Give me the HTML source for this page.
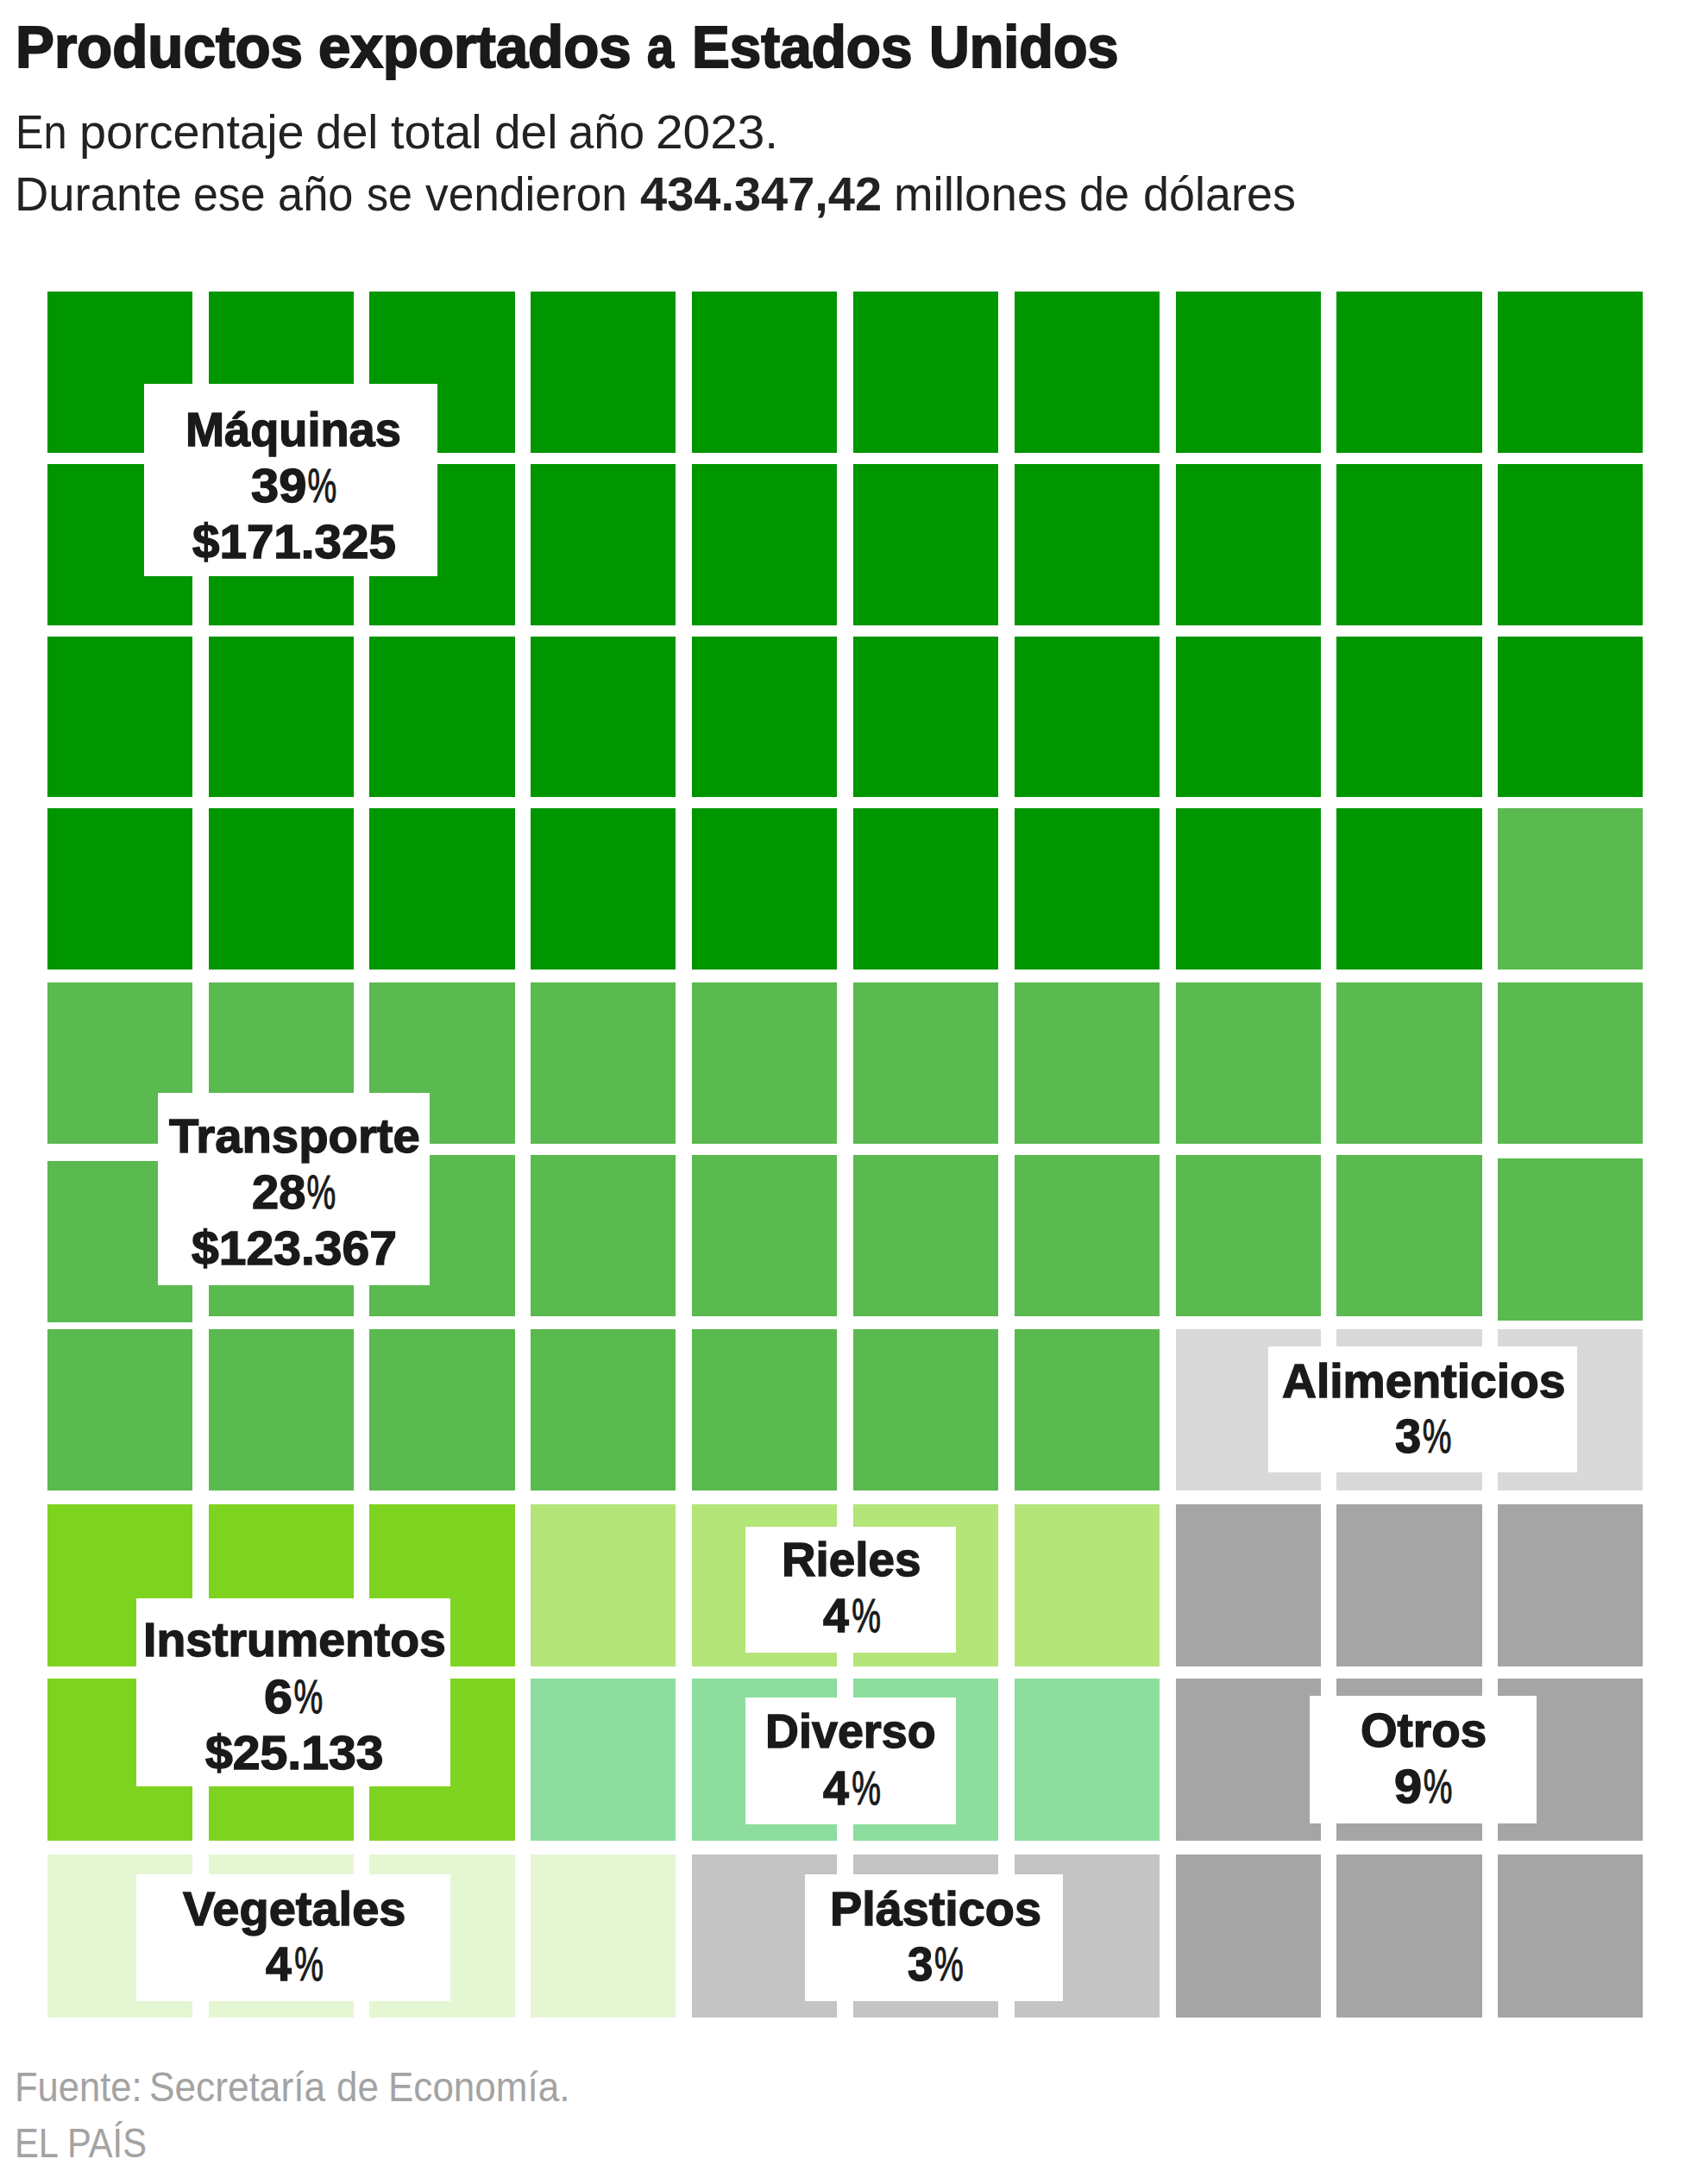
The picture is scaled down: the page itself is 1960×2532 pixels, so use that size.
<!DOCTYPE html>
<html lang="es"><head><meta charset="utf-8"><title>Productos exportados a Estados Unidos</title>
<style>
html,body{margin:0;padding:0;background:#fff}
body{width:1960px;height:2532px;position:relative;overflow:hidden;font-family:"Liberation Sans", sans-serif}
.c{position:absolute}
.b{position:absolute;background:#fff}
.t{position:absolute;white-space:pre;line-height:1;transform-origin:0 0}
.p{display:inline-block;font-weight:400;transform-origin:0 0;-webkit-text-stroke:1.1px #1a1a1a}
.s{position:absolute;top:0;transform-origin:0 0;white-space:pre}
.t1{font-weight:700;color:#1a1a1a;-webkit-text-stroke:2.0px #1a1a1a} .t2{color:#222} .t3{color:#a3a3a3} .l{color:#1a1a1a;-webkit-text-stroke:1.4px #1a1a1a}
.maq{background:#009600}
.tra{background:#5ab94f}
.ali{background:#d9d9d9}
.ins{background:#7ed321}
.rie{background:#b3e579}
.div{background:#8cdd9e}
.veg{background:#e5f6d3}
.pla{background:#c4c4c4}
.otr{background:#a5a5a5}
</style></head><body>
<div id="header">
<div class="t t1" style="left:0;top:20.00px;font-size:68.0px"><span class="s" style="left:18.29px;transform:scaleX(0.9902)">Productos </span><span class="s" style="left:368.50px;transform:scaleX(0.9896)">exportados </span><span class="s" style="left:749.73px;transform:scaleX(0.8175)">a </span><span class="s" style="left:802.40px;transform:scaleX(0.9657)">Estados </span><span class="s" style="left:1076.56px;transform:scaleX(0.9524)">Unidos</span></div>
<div class="t t2" style="left:0;top:126.25px;font-size:55.5px"><span class="s" style="left:17.70px;transform:scaleX(0.8770)">En </span><span class="s" style="left:91.71px;transform:scaleX(1.0053)">porcentaje </span><span class="s" style="left:365.51px;transform:scaleX(0.9771)">del </span><span class="s" style="left:453.30px;transform:scaleX(1.0075)">total </span><span class="s" style="left:572.78px;transform:scaleX(0.9902)">del </span><span class="s" style="left:658.65px;transform:scaleX(0.9502)">año </span><span class="s" style="left:759.64px;transform:scaleX(1.0231)">2023.</span></div>
<div class="t t2" style="left:0;top:198.25px;font-size:55.5px"><span class="s" style="left:17.25px;transform:scaleX(0.9808)">Durante </span><span class="s" style="left:224.18px;transform:scaleX(0.9345)">ese </span><span class="s" style="left:322.36px;transform:scaleX(0.9445)">año </span><span class="s" style="left:424.62px;transform:scaleX(0.9045)">se </span><span class="s" style="left:493.20px;transform:scaleX(0.9599)">vendieron </span><b class="s" style="left:741.80px;transform:scaleX(1.0084)">434.347,42 </b><span class="s" style="left:1036.18px;transform:scaleX(0.9865)">millones </span><span class="s" style="left:1251.37px;transform:scaleX(0.9385)">de </span><span class="s" style="left:1324.71px;transform:scaleX(0.9717)">dólares</span></div>
</div>
<div id="grid">
<div class="c maq" style="left:54.70px;top:338.20px;width:168.20px;height:186.90px"></div>
<div class="c maq" style="left:241.53px;top:338.20px;width:168.20px;height:186.90px"></div>
<div class="c maq" style="left:428.36px;top:338.20px;width:168.20px;height:186.90px"></div>
<div class="c maq" style="left:615.19px;top:338.20px;width:168.20px;height:186.90px"></div>
<div class="c maq" style="left:802.02px;top:338.20px;width:168.20px;height:186.90px"></div>
<div class="c maq" style="left:988.85px;top:338.20px;width:168.20px;height:186.90px"></div>
<div class="c maq" style="left:1175.68px;top:338.20px;width:168.20px;height:186.90px"></div>
<div class="c maq" style="left:1362.51px;top:338.20px;width:168.20px;height:186.90px"></div>
<div class="c maq" style="left:1549.34px;top:338.20px;width:168.20px;height:186.90px"></div>
<div class="c maq" style="left:1736.17px;top:338.20px;width:168.20px;height:186.90px"></div>
<div class="c maq" style="left:54.70px;top:537.70px;width:168.20px;height:187.60px"></div>
<div class="c maq" style="left:241.53px;top:537.70px;width:168.20px;height:187.60px"></div>
<div class="c maq" style="left:428.36px;top:537.70px;width:168.20px;height:187.60px"></div>
<div class="c maq" style="left:615.19px;top:537.70px;width:168.20px;height:187.60px"></div>
<div class="c maq" style="left:802.02px;top:537.70px;width:168.20px;height:187.60px"></div>
<div class="c maq" style="left:988.85px;top:537.70px;width:168.20px;height:187.60px"></div>
<div class="c maq" style="left:1175.68px;top:537.70px;width:168.20px;height:187.60px"></div>
<div class="c maq" style="left:1362.51px;top:537.70px;width:168.20px;height:187.60px"></div>
<div class="c maq" style="left:1549.34px;top:537.70px;width:168.20px;height:187.60px"></div>
<div class="c maq" style="left:1736.17px;top:537.70px;width:168.20px;height:187.60px"></div>
<div class="c maq" style="left:54.70px;top:737.60px;width:168.20px;height:186.80px"></div>
<div class="c maq" style="left:241.53px;top:737.60px;width:168.20px;height:186.80px"></div>
<div class="c maq" style="left:428.36px;top:737.60px;width:168.20px;height:186.80px"></div>
<div class="c maq" style="left:615.19px;top:737.60px;width:168.20px;height:186.80px"></div>
<div class="c maq" style="left:802.02px;top:737.60px;width:168.20px;height:186.80px"></div>
<div class="c maq" style="left:988.85px;top:737.60px;width:168.20px;height:186.80px"></div>
<div class="c maq" style="left:1175.68px;top:737.60px;width:168.20px;height:186.80px"></div>
<div class="c maq" style="left:1362.51px;top:737.60px;width:168.20px;height:186.80px"></div>
<div class="c maq" style="left:1549.34px;top:737.60px;width:168.20px;height:186.80px"></div>
<div class="c maq" style="left:1736.17px;top:737.60px;width:168.20px;height:186.80px"></div>
<div class="c maq" style="left:54.70px;top:936.70px;width:168.20px;height:187.50px"></div>
<div class="c maq" style="left:241.53px;top:936.70px;width:168.20px;height:187.50px"></div>
<div class="c maq" style="left:428.36px;top:936.70px;width:168.20px;height:187.50px"></div>
<div class="c maq" style="left:615.19px;top:936.70px;width:168.20px;height:187.50px"></div>
<div class="c maq" style="left:802.02px;top:936.70px;width:168.20px;height:187.50px"></div>
<div class="c maq" style="left:988.85px;top:936.70px;width:168.20px;height:187.50px"></div>
<div class="c maq" style="left:1175.68px;top:936.70px;width:168.20px;height:187.50px"></div>
<div class="c maq" style="left:1362.51px;top:936.70px;width:168.20px;height:187.50px"></div>
<div class="c maq" style="left:1549.34px;top:936.70px;width:168.20px;height:187.50px"></div>
<div class="c tra" style="left:1736.17px;top:936.70px;width:168.20px;height:187.50px"></div>
<div class="c tra" style="left:54.70px;top:1138.80px;width:168.20px;height:187.00px"></div>
<div class="c tra" style="left:241.53px;top:1138.80px;width:168.20px;height:187.00px"></div>
<div class="c tra" style="left:428.36px;top:1138.80px;width:168.20px;height:187.00px"></div>
<div class="c tra" style="left:615.19px;top:1138.80px;width:168.20px;height:187.00px"></div>
<div class="c tra" style="left:802.02px;top:1138.80px;width:168.20px;height:187.00px"></div>
<div class="c tra" style="left:988.85px;top:1138.80px;width:168.20px;height:187.00px"></div>
<div class="c tra" style="left:1175.68px;top:1138.80px;width:168.20px;height:187.00px"></div>
<div class="c tra" style="left:1362.51px;top:1138.80px;width:168.20px;height:187.00px"></div>
<div class="c tra" style="left:1549.34px;top:1138.80px;width:168.20px;height:187.00px"></div>
<div class="c tra" style="left:1736.17px;top:1138.80px;width:168.20px;height:187.00px"></div>
<div class="c tra" style="left:54.70px;top:1345.50px;width:168.20px;height:187.50px"></div>
<div class="c tra" style="left:241.53px;top:1338.70px;width:168.20px;height:187.30px"></div>
<div class="c tra" style="left:428.36px;top:1338.70px;width:168.20px;height:187.30px"></div>
<div class="c tra" style="left:615.19px;top:1338.70px;width:168.20px;height:187.30px"></div>
<div class="c tra" style="left:802.02px;top:1338.70px;width:168.20px;height:187.30px"></div>
<div class="c tra" style="left:988.85px;top:1338.70px;width:168.20px;height:187.30px"></div>
<div class="c tra" style="left:1175.68px;top:1338.70px;width:168.20px;height:187.30px"></div>
<div class="c tra" style="left:1362.51px;top:1338.70px;width:168.20px;height:187.30px"></div>
<div class="c tra" style="left:1549.34px;top:1338.70px;width:168.20px;height:187.30px"></div>
<div class="c tra" style="left:1736.17px;top:1343.00px;width:168.20px;height:187.50px"></div>
<div class="c tra" style="left:54.70px;top:1540.50px;width:168.20px;height:187.50px"></div>
<div class="c tra" style="left:241.53px;top:1540.50px;width:168.20px;height:187.50px"></div>
<div class="c tra" style="left:428.36px;top:1540.50px;width:168.20px;height:187.50px"></div>
<div class="c tra" style="left:615.19px;top:1540.50px;width:168.20px;height:187.50px"></div>
<div class="c tra" style="left:802.02px;top:1540.50px;width:168.20px;height:187.50px"></div>
<div class="c tra" style="left:988.85px;top:1540.50px;width:168.20px;height:187.50px"></div>
<div class="c tra" style="left:1175.68px;top:1540.50px;width:168.20px;height:187.50px"></div>
<div class="c ali" style="left:1362.51px;top:1540.50px;width:168.20px;height:187.50px"></div>
<div class="c ali" style="left:1549.34px;top:1540.50px;width:168.20px;height:187.50px"></div>
<div class="c ali" style="left:1736.17px;top:1540.50px;width:168.20px;height:187.50px"></div>
<div class="c ins" style="left:54.70px;top:1744.30px;width:168.20px;height:187.40px"></div>
<div class="c ins" style="left:241.53px;top:1744.30px;width:168.20px;height:187.40px"></div>
<div class="c ins" style="left:428.36px;top:1744.30px;width:168.20px;height:187.40px"></div>
<div class="c rie" style="left:615.19px;top:1744.30px;width:168.20px;height:187.40px"></div>
<div class="c rie" style="left:802.02px;top:1744.30px;width:168.20px;height:187.40px"></div>
<div class="c rie" style="left:988.85px;top:1744.30px;width:168.20px;height:187.40px"></div>
<div class="c rie" style="left:1175.68px;top:1744.30px;width:168.20px;height:187.40px"></div>
<div class="c otr" style="left:1362.51px;top:1744.30px;width:168.20px;height:187.40px"></div>
<div class="c otr" style="left:1549.34px;top:1744.30px;width:168.20px;height:187.40px"></div>
<div class="c otr" style="left:1736.17px;top:1744.30px;width:168.20px;height:187.40px"></div>
<div class="c ins" style="left:54.70px;top:1946.00px;width:168.20px;height:187.60px"></div>
<div class="c ins" style="left:241.53px;top:1946.00px;width:168.20px;height:187.60px"></div>
<div class="c ins" style="left:428.36px;top:1946.00px;width:168.20px;height:187.60px"></div>
<div class="c div" style="left:615.19px;top:1946.00px;width:168.20px;height:187.60px"></div>
<div class="c div" style="left:802.02px;top:1946.00px;width:168.20px;height:187.60px"></div>
<div class="c div" style="left:988.85px;top:1946.00px;width:168.20px;height:187.60px"></div>
<div class="c div" style="left:1175.68px;top:1946.00px;width:168.20px;height:187.60px"></div>
<div class="c otr" style="left:1362.51px;top:1946.00px;width:168.20px;height:187.60px"></div>
<div class="c otr" style="left:1549.34px;top:1946.00px;width:168.20px;height:187.60px"></div>
<div class="c otr" style="left:1736.17px;top:1946.00px;width:168.20px;height:187.60px"></div>
<div class="c veg" style="left:54.70px;top:2150.20px;width:168.20px;height:188.40px"></div>
<div class="c veg" style="left:241.53px;top:2150.20px;width:168.20px;height:188.40px"></div>
<div class="c veg" style="left:428.36px;top:2150.20px;width:168.20px;height:188.40px"></div>
<div class="c veg" style="left:615.19px;top:2150.20px;width:168.20px;height:188.40px"></div>
<div class="c pla" style="left:802.02px;top:2150.20px;width:168.20px;height:188.40px"></div>
<div class="c pla" style="left:988.85px;top:2150.20px;width:168.20px;height:188.40px"></div>
<div class="c pla" style="left:1175.68px;top:2150.20px;width:168.20px;height:188.40px"></div>
<div class="c otr" style="left:1362.51px;top:2150.20px;width:168.20px;height:188.40px"></div>
<div class="c otr" style="left:1549.34px;top:2150.20px;width:168.20px;height:188.40px"></div>
<div class="c otr" style="left:1736.17px;top:2150.20px;width:168.20px;height:188.40px"></div>
</div>
<div id="labels">
<div class="lab">
<div class="b" style="left:166.5px;top:444.8px;width:340.9px;height:223.6px"></div>
<div class="t l" style="left:215.31px;top:470.10px;font-size:55.8px;font-weight:700;transform:scaleX(0.9706)">Máquinas</div>
<div class="t l" style="left:290.80px;top:535.60px;font-size:54.8px;font-weight:700;transform:scaleX(1.0556)">39<span class="p" style="transform:scaleX(0.6555);margin-left:1.11px">%</span></div>
<div class="t l" style="left:223.00px;top:600.60px;font-size:54.8px;font-weight:700;transform:scaleX(1.0321)">$171.325</div>
</div>
<div class="lab">
<div class="b" style="left:183.0px;top:1267.2px;width:314.9px;height:222.4px"></div>
<div class="t l" style="left:195.60px;top:1289.10px;font-size:55.8px;font-weight:700;transform:scaleX(1.0088)">Transporte</div>
<div class="t l" style="left:291.55px;top:1354.60px;font-size:54.8px;font-weight:700;transform:scaleX(1.0229)">28<span class="p" style="transform:scaleX(0.6765);margin-left:1.19px">%</span></div>
<div class="t l" style="left:221.80px;top:1419.60px;font-size:54.8px;font-weight:700;transform:scaleX(1.0413)">$123.367</div>
</div>
<div class="lab">
<div class="b" style="left:158.2px;top:1852.5px;width:364.3px;height:218.8px"></div>
<div class="t l" style="left:165.64px;top:1873.10px;font-size:55.8px;font-weight:700;transform:scaleX(0.9928)">Instrumentos</div>
<div class="t l" style="left:306.35px;top:1939.60px;font-size:54.8px;font-weight:700;transform:scaleX(1.0803)">6<span class="p" style="transform:scaleX(0.6405);margin-left:1.06px">%</span></div>
<div class="t l" style="left:237.70px;top:2004.60px;font-size:54.8px;font-weight:700;transform:scaleX(1.0426)">$25.133</div>
</div>
<div class="lab">
<div class="b" style="left:158.2px;top:2173.1px;width:364.3px;height:146.7px"></div>
<div class="t l" style="left:212.40px;top:2185.10px;font-size:55.8px;font-weight:700;transform:scaleX(1.0039)">Vegetales</div>
<div class="t l" style="left:308.20px;top:2249.60px;font-size:54.8px;font-weight:700;transform:scaleX(0.9765)">4<span class="p" style="transform:scaleX(0.7086);margin-left:3.03px">%</span></div>
</div>
<div class="lab">
<div class="b" style="left:864.4px;top:1769.7px;width:243.9px;height:146.7px"></div>
<div class="t l" style="left:905.67px;top:1780.10px;font-size:55.8px;font-weight:700;transform:scaleX(0.9826)">Rieles</div>
<div class="t l" style="left:954.10px;top:1845.60px;font-size:54.8px;font-weight:700;transform:scaleX(0.9765)">4<span class="p" style="transform:scaleX(0.7086);margin-left:3.03px">%</span></div>
</div>
<div class="lab">
<div class="b" style="left:864.4px;top:1967.8px;width:243.9px;height:147.2px"></div>
<div class="t l" style="left:887.33px;top:1979.10px;font-size:55.8px;font-weight:700;transform:scaleX(0.9660)">Diverso</div>
<div class="t l" style="left:954.10px;top:2045.60px;font-size:54.8px;font-weight:700;transform:scaleX(0.9765)">4<span class="p" style="transform:scaleX(0.7086);margin-left:3.03px">%</span></div>
</div>
<div class="lab">
<div class="b" style="left:932.5px;top:2173.1px;width:299.2px;height:146.7px"></div>
<div class="t l" style="left:961.91px;top:2185.10px;font-size:55.8px;font-weight:700;transform:scaleX(0.9997)">Plásticos</div>
<div class="t l" style="left:1052.07px;top:2249.60px;font-size:54.8px;font-weight:700;transform:scaleX(0.9662)">3<span class="p" style="transform:scaleX(0.7162);margin-left:1.34px">%</span></div>
</div>
<div class="lab">
<div class="b" style="left:1469.8px;top:1560.6px;width:358.6px;height:146.4px"></div>
<div class="t l" style="left:1485.94px;top:1573.10px;font-size:55.8px;font-weight:700;transform:scaleX(0.9904)">Alimenticios</div>
<div class="t l" style="left:1616.65px;top:1637.60px;font-size:54.8px;font-weight:700;transform:scaleX(0.9909)">3<span class="p" style="transform:scaleX(0.6982);margin-left:1.27px">%</span></div>
</div>
<div class="lab">
<div class="b" style="left:1517.5px;top:1966.3px;width:263.8px;height:147.3px"></div>
<div class="t l" style="left:1576.79px;top:1978.10px;font-size:55.8px;font-weight:700;transform:scaleX(0.9820)">Otros</div>
<div class="t l" style="left:1615.69px;top:2043.60px;font-size:54.8px;font-weight:700;transform:scaleX(1.0547)">9<span class="p" style="transform:scaleX(0.6560);margin-left:1.11px">%</span></div>
</div>
</div>
<div id="footer">
<div class="t t3" style="left:0;top:2395.90px;font-size:47.2px"><span class="s" style="left:16.70px;transform:scaleX(0.9217)">Fuente: </span><span class="s" style="left:172.52px;transform:scaleX(0.9373)">Secretaría </span><span class="s" style="left:390.33px;transform:scaleX(0.9305)">de </span><span class="s" style="left:449.56px;transform:scaleX(0.9330)">Economía.</span></div>
<div class="t t3" style="left:17.04px;top:2460.90px;font-size:47.2px;transform:scaleX(0.8840)">EL PAÍS</div>
</div>
</body></html>
